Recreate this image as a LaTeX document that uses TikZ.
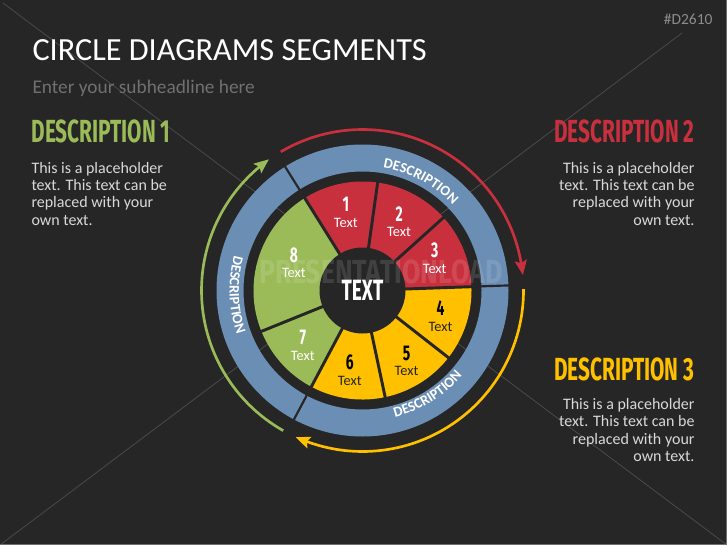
\documentclass[tikz,border=0pt]{standalone}
\usepackage{fontspec}
\setmainfont{Carlito}
\newfontfamily\condfont[FakeStretch=0.65]{Fira Sans}
\newfontfamily\wmfont[FakeStretch=0.8]{Fira Sans}
\usetikzlibrary{arrows.meta,bending,decorations.text}

\definecolor{slidebg}{HTML}{262626}
\definecolor{segred}{HTML}{C9303E}
\definecolor{segyellow}{HTML}{FFC000}
\definecolor{seggreen}{HTML}{9BBB59}
\definecolor{ringblue}{HTML}{6B8EB5}
\definecolor{subgray}{HTML}{707070}
\definecolor{codegray}{HTML}{8C8C8C}
\definecolor{bodygray}{HTML}{D9D9D9}
\definecolor{wmgray}{HTML}{4A4A4A}

\newcommand\segnum{\condfont\bfseries\fontsize{16}{16}\selectfont}
\newcommand\ringfont{\bfseries\fontsize{10.8}{10.8}\selectfont}

\tikzset{every picture/.style={line width=0.75pt}}

\begin{document}
\begin{tikzpicture}[x=0.75pt,y=0.75pt,yscale=-1,xscale=1,
	headline/.style={font=\condfont\bfseries\fontsize{24}{24}\selectfont,inner sep=0pt},
	bodytext/.style={font=\fontsize{12}{13}\selectfont,text=bodygray,inner sep=0pt},
	seglabel/.style={align=center,font=\fontsize{10.8}{11.8}\selectfont,inner sep=0pt},
	gapline/.style={draw=slidebg,line width=2.2pt},
	ringgap/.style={draw=slidebg,line width=1.6pt},
	flowarrow/.style={line width=2pt,-{Stealth[length=11pt,width=9pt,inset=2pt,bend]}},
	ringtext/.style={decorate,decoration={text along path,text align=center,text color=white,text={|\ringfont|DESCRIPTION}}},
	wmline/.style={draw=wmgray,line width=0.6pt}]
	\useasboundingbox (0,0) rectangle (727,545);

	%Shape: Rectangle [background]
	\fill[slidebg] (0,0) rectangle (727,545);
	%Straight Lines [watermark cross]
	\draw[wmline] (3,3) -- (727,545);
	\draw[wmline] (682,33) -- (0,545);
	%Straight Lines [slide edge]
	\draw[draw=wmgray!80!white,line width=1pt] (0,544.3) -- (726.3,544.3) -- (726.3,0);

	% Text Node
	\node[anchor=base west,inner sep=0pt,text=white,font=\fontsize{24.2}{24.2}\selectfont] (title) at (32,61) {CIRCLE DIAGRAMS SEGMENTS};
	% Text Node
	\node[anchor=base west,inner sep=0pt,text=subgray,font=\fontsize{14.5}{14.5}\selectfont] (subhead) at (32,94) {Enter your subheadline here};
	% Text Node
	\node[anchor=base east,inner sep=0pt,text=codegray,font=\fontsize{11.6}{11.6}\selectfont] (code) at (713,25) {\#D2610};

	% Text Node
	\node[headline,text=seggreen,anchor=base west] (desc1) at (31,143) {DESCRIPTION 1};
	% Text Node
	\node[bodytext,anchor=north west,align=left] (body1) at (31,161.5) {This is a placeholder\\text. This text can be\\replaced with your\\own text.};
	% Text Node
	\node[headline,text=segred,anchor=base east] (desc2) at (695,143) {DESCRIPTION 2};
	% Text Node
	\node[bodytext,anchor=north east,align=right] (body2) at (695,161.5) {This is a placeholder\\text. This text can be\\replaced with your\\own text.};
	% Text Node
	\node[headline,text=segyellow,anchor=base east] (desc3) at (695,380) {DESCRIPTION 3};
	% Text Node
	\node[bodytext,anchor=north east,align=right] (body3) at (695,398) {This is a placeholder\\text. This text can be\\replaced with your\\own text.};

	\begin{scope}[shift={(362.5,290.5)},yscale=-1]
		%Shape: Pie segments
		\fill[segred] (0,0) -- (2:109) arc[start angle=2,end angle=122,radius=109] -- cycle;
		\fill[seggreen] (0,0) -- (122:109) arc[start angle=122,end angle=242,radius=109] -- cycle;
		\fill[segyellow] (0,0) -- (242:109) arc[start angle=242,end angle=362,radius=109] -- cycle;
		\foreach \a in {2,42,82,122,202,242,282,322}
			\draw[gapline] (0,0) -- (\a:112);
		%Shape: Circle [hub]
		\fill[slidebg] (0,0) circle[radius=43];

		%Shape: Ring
		\fill[ringblue,even odd rule] (0,0) circle[radius=146] (0,0) circle[radius=119];
		\foreach \a in {2,122,242}
			\draw[ringgap] (\a:117) -- (\a:148);
		%Text along ring
		\path[ringtext] (97:124.5) arc[start angle=97,end angle=27,radius=124.5];
		\path[ringtext] (-93:131) arc[start angle=-93,end angle=-23,radius=131];
		\path[ringtext] (147:133) arc[start angle=147,end angle=217,radius=133];

		%Curve Lines [arrows]
		\draw[flowarrow,segred] (120.5:161) arc[start angle=120.5,end angle=5.5,radius=161];
		\draw[flowarrow,segyellow] (0.5:161) arc[start angle=0.5,end angle=-114.5,radius=161];
		\draw[flowarrow,seggreen] (240.5:161) arc[start angle=240.5,end angle=125.5,radius=161];

		% Text Node
		\node[inner sep=0pt,text=white,font=\condfont\bfseries\fontsize{22}{22}\selectfont] (hub) at (0,0) {TEXT};
		% Text Node
		\node[seglabel,text=white] (s1) at (102:80) {{\segnum 1}\\Text};
		\node[seglabel,text=white] (s2) at (62:78) {{\segnum 2}\\Text};
		\node[seglabel,text=white] (s3) at (24:79) {{\segnum 3}\\Text};
		\node[seglabel,text=slidebg] (s4) at (-18:82) {{\segnum\color{black} 4}\\Text};
		\node[seglabel,text=slidebg] (s5) at (-58:83) {{\segnum\color{black} 5}\\Text};
		\node[seglabel,text=slidebg] (s6) at (-99:81) {{\segnum\color{black} 6}\\Text};
		\node[seglabel,text=white] (s7) at (-137.5:81) {{\segnum 7}\\Text};
		\node[seglabel,text=white] (s8) at (158:74) {{\segnum 8}\\Text};
	\end{scope}

	% Text Node [watermark]
	\node[inner sep=0pt,text=white,text opacity=0.12,font=\wmfont\bfseries\fontsize{25}{25}\selectfont] (wm) at (381,271.5) {PRESENTATIONLOAD};

\end{tikzpicture}
\end{document}
